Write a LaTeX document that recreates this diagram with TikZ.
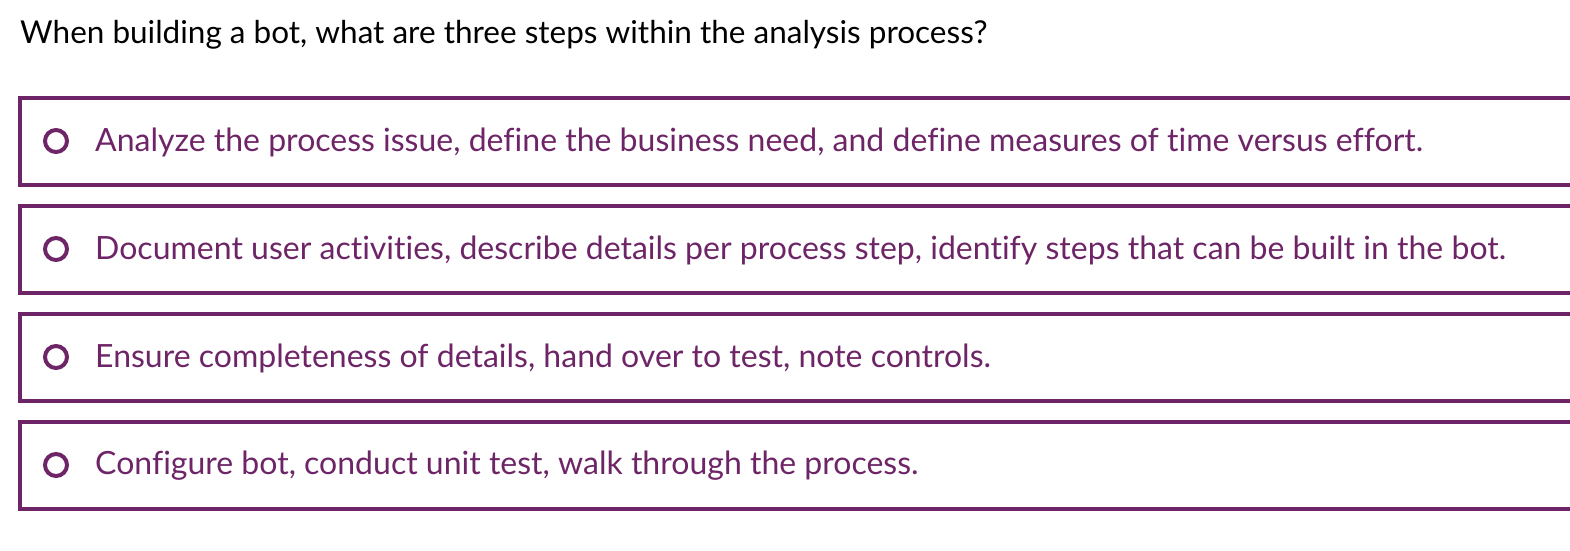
\documentclass[tikz,border=0pt]{standalone}
\usepackage{fontspec}
\setmainfont{Lato}[Ligatures={NoCommon,NoRare,NoDiscretionary}]
\definecolor{pur}{HTML}{6E2567}
\begin{document}
\begin{tikzpicture}[x=1pt,y=-1pt,
  optbox/.style={draw=pur,line width=4pt},
  radio/.style={circle,draw=pur,line width=4pt,minimum size=22pt,inner sep=0pt},
  opttext/.style={anchor=west,text=pur,font=\fontsize{32}{36}\selectfont,inner sep=0pt},
  qtext/.style={anchor=west,font=\fontsize{31.5}{36}\selectfont,inner sep=0pt}]
\useasboundingbox (0,0) rectangle (1570,550);
\node[qtext] (q) at (20,35) {When building a bot, what are three steps within the analysis process?};
\foreach \i/\t [count=\k] in {0/{Analyze the process issue, define the business need, and define measures of time versus effort.},
  1/{Document user activities, describe details per process step, identify steps that can be built in the bot.},
  2/{Ensure completeness of details, hand over to test, note controls.},
  3/{Configure bot, conduct unit test, walk through the process.}}{
  \draw[optbox] (1580,{98+108*\i}) -- (20,{98+108*\i}) -- (20,{185+108*\i}) -- (1580,{185+108*\i});
  \node[radio] (r\k) at (56,{141+108*\i}) {};
  \node[opttext] (t\k) at (95,{142+108*\i}) {\t};
}
\end{tikzpicture}
\end{document}
